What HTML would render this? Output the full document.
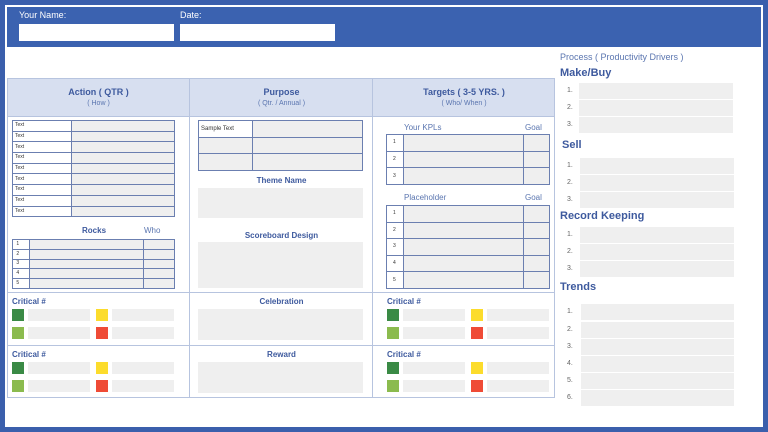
<!DOCTYPE html>
<html><head><meta charset="utf-8"><style>
*{margin:0;padding:0;box-sizing:border-box}
body{width:768px;height:432px;position:relative;background:#fff;font-family:"Liberation Sans",sans-serif;overflow:hidden}
div,table{position:absolute}
.b{color:#3e5a9e;font-weight:bold;font-size:9px}
.l{color:#5b76b0;font-size:8px}
.g{background:#efefef}
.n{font-size:7px;color:#666}
.sq{width:12px;height:12px}
table{border-collapse:collapse;table-layout:fixed}
td{border:1px solid #6b7fb0;background:#efefef;font-size:5px;color:#333;padding:0 0 0 2px;line-height:1;overflow:hidden;white-space:nowrap}
td.w{background:#fff}
</style></head><body>
<div style="left:0;top:0;width:768px;height:432px;border:5px solid #3b5fac"></div>
<div style="left:7px;top:7px;width:754px;height:40px;background:#3b62b0"></div>
<div style="left:19px;top:10px;color:#fff;font-size:9px">Your Name:</div>
<div style="left:180px;top:10px;color:#fff;font-size:9px">Date:</div>
<div style="left:19px;top:24px;width:155px;height:17px;background:#fff"></div>
<div style="left:180px;top:24px;width:155px;height:17px;background:#fff"></div>

<div style="left:7px;top:78px;width:548px;height:38px;background:#d7dff0"></div>
<div style="left:7px;top:78px;width:548px;height:320px;border:1px solid #b7c4df"></div>
<div style="left:189px;top:78px;width:1px;height:320px;background:#b7c4df"></div>
<div style="left:372px;top:78px;width:1px;height:320px;background:#b7c4df"></div>
<div style="left:7px;top:116px;width:548px;height:1px;background:#b7c4df"></div>
<div style="left:7px;top:292px;width:548px;height:1px;background:#b7c4df"></div>
<div style="left:7px;top:345px;width:548px;height:1px;background:#b7c4df"></div>

<div class="b" style="left:7px;top:87px;width:183px;text-align:center">Action ( QTR )</div>
<div class="l" style="left:7px;top:100px;width:183px;text-align:center;font-size:7px">( How )</div>
<div class="b" style="left:190px;top:87px;width:183px;text-align:center">Purpose</div>
<div class="l" style="left:190px;top:100px;width:183px;text-align:center;font-size:7px">( Qtr. / Annual )</div>
<div class="b" style="left:373px;top:87px;width:182px;text-align:center">Targets ( 3-5 YRS. )</div>
<div class="l" style="left:373px;top:100px;width:182px;text-align:center;font-size:7px">( Who/ When )</div>

<table style="left:12px;top:120px;width:163px">
<colgroup><col style="width:59px"><col></colgroup>
<tr style="height:10.7px"><td class="w">Text</td><td></td></tr>
<tr style="height:10.7px"><td class="w">Text</td><td></td></tr>
<tr style="height:10.7px"><td class="w">Text</td><td></td></tr>
<tr style="height:10.7px"><td class="w">Text</td><td></td></tr>
<tr style="height:10.7px"><td class="w">Text</td><td></td></tr>
<tr style="height:10.7px"><td class="w">Text</td><td></td></tr>
<tr style="height:10.7px"><td class="w">Text</td><td></td></tr>
<tr style="height:10.7px"><td class="w">Text</td><td></td></tr>
<tr style="height:10.7px"><td class="w">Text</td><td></td></tr>
</table>

<div class="b" style="left:82px;top:226px;font-size:8px">Rocks</div>
<div class="l" style="left:144px;top:226px">Who</div>
<table style="left:12px;top:239px;width:163px">
<colgroup><col style="width:17px"><col><col style="width:31px"></colgroup>
<tr style="height:9.8px"><td class="w">&nbsp;1</td><td></td><td></td></tr>
<tr style="height:9.8px"><td class="w">&nbsp;2</td><td></td><td></td></tr>
<tr style="height:9.8px"><td class="w">&nbsp;3</td><td></td><td></td></tr>
<tr style="height:9.8px"><td class="w">&nbsp;4</td><td></td><td></td></tr>
<tr style="height:9.8px"><td class="w">&nbsp;5</td><td></td><td></td></tr>
</table>

<table style="left:198px;top:120px;width:165px">
<colgroup><col style="width:54px"><col></colgroup>
<tr style="height:16.5px"><td class="w" style="font-size:6px">Sample Text</td><td></td></tr>
<tr style="height:16.5px"><td></td><td></td></tr>
<tr style="height:16.5px"><td></td><td></td></tr>
</table>
<div class="b" style="left:190px;top:176px;width:183px;text-align:center;font-size:8px">Theme Name</div>
<div class="g" style="left:198px;top:188px;width:165px;height:30px"></div>
<div class="b" style="left:190px;top:231px;width:183px;text-align:center;font-size:8px">Scoreboard Design</div>
<div class="g" style="left:198px;top:242px;width:165px;height:46px"></div>
<div class="b" style="left:190px;top:297px;width:183px;text-align:center;font-size:8px">Celebration</div>
<div class="g" style="left:198px;top:309px;width:165px;height:31px"></div>
<div class="b" style="left:190px;top:350px;width:183px;text-align:center;font-size:8px">Reward</div>
<div class="g" style="left:198px;top:362px;width:165px;height:31px"></div>

<div class="l" style="left:404px;top:123px">Your KPLs</div>
<div class="l" style="left:525px;top:123px">Goal</div>
<table style="left:386px;top:134px;width:164px">
<colgroup><col style="width:17px"><col><col style="width:26px"></colgroup>
<tr style="height:16.7px"><td class="w" style="padding-left:6px">1</td><td></td><td></td></tr>
<tr style="height:16.7px"><td class="w" style="padding-left:6px">2</td><td></td><td></td></tr>
<tr style="height:16.7px"><td class="w" style="padding-left:6px">3</td><td></td><td></td></tr>
</table>
<div class="l" style="left:404px;top:193px">Placeholder</div>
<div class="l" style="left:525px;top:193px">Goal</div>
<table style="left:386px;top:205px;width:164px">
<colgroup><col style="width:17px"><col><col style="width:26px"></colgroup>
<tr style="height:16.6px"><td class="w" style="padding-left:6px">1</td><td></td><td></td></tr>
<tr style="height:16.6px"><td class="w" style="padding-left:6px">2</td><td></td><td></td></tr>
<tr style="height:16.6px"><td class="w" style="padding-left:6px">3</td><td></td><td></td></tr>
<tr style="height:16.6px"><td class="w" style="padding-left:6px">4</td><td></td><td></td></tr>
<tr style="height:16.6px"><td class="w" style="padding-left:6px">5</td><td></td><td></td></tr>
</table>

<div class="b" style="left:12px;top:297px;font-size:8px">Critical #</div>
<div class="sq" style="left:12px;top:309px;background:#3a8a45"></div><div class="g" style="left:28px;top:309px;width:62px;height:12px"></div>
<div class="sq" style="left:96px;top:309px;background:#fcdc2c"></div><div class="g" style="left:112px;top:309px;width:62px;height:12px"></div>
<div class="sq" style="left:12px;top:327px;background:#8bbb4e"></div><div class="g" style="left:28px;top:327px;width:62px;height:12px"></div>
<div class="sq" style="left:96px;top:327px;background:#ef4b36"></div><div class="g" style="left:112px;top:327px;width:62px;height:12px"></div>

<div class="b" style="left:12px;top:350px;font-size:8px">Critical #</div>
<div class="sq" style="left:12px;top:362px;background:#3a8a45"></div><div class="g" style="left:28px;top:362px;width:62px;height:12px"></div>
<div class="sq" style="left:96px;top:362px;background:#fcdc2c"></div><div class="g" style="left:112px;top:362px;width:62px;height:12px"></div>
<div class="sq" style="left:12px;top:380px;background:#8bbb4e"></div><div class="g" style="left:28px;top:380px;width:62px;height:12px"></div>
<div class="sq" style="left:96px;top:380px;background:#ef4b36"></div><div class="g" style="left:112px;top:380px;width:62px;height:12px"></div>

<div class="b" style="left:387px;top:297px;font-size:8px">Critical #</div>
<div class="sq" style="left:387px;top:309px;background:#3a8a45"></div><div class="g" style="left:403px;top:309px;width:62px;height:12px"></div>
<div class="sq" style="left:471px;top:309px;background:#fcdc2c"></div><div class="g" style="left:487px;top:309px;width:62px;height:12px"></div>
<div class="sq" style="left:387px;top:327px;background:#8bbb4e"></div><div class="g" style="left:403px;top:327px;width:62px;height:12px"></div>
<div class="sq" style="left:471px;top:327px;background:#ef4b36"></div><div class="g" style="left:487px;top:327px;width:62px;height:12px"></div>

<div class="b" style="left:387px;top:350px;font-size:8px">Critical #</div>
<div class="sq" style="left:387px;top:362px;background:#3a8a45"></div><div class="g" style="left:403px;top:362px;width:62px;height:12px"></div>
<div class="sq" style="left:471px;top:362px;background:#fcdc2c"></div><div class="g" style="left:487px;top:362px;width:62px;height:12px"></div>
<div class="sq" style="left:387px;top:380px;background:#8bbb4e"></div><div class="g" style="left:403px;top:380px;width:62px;height:12px"></div>
<div class="sq" style="left:471px;top:380px;background:#ef4b36"></div><div class="g" style="left:487px;top:380px;width:62px;height:12px"></div>

<div class="l" style="left:560px;top:52px;font-size:9px">Process ( Productivity Drivers )</div>
<div class="b" style="left:560px;top:67px;font-size:11px">Make/Buy</div>
<div class="n" style="left:567px;top:87px">1.</div><div class="g" style="left:579px;top:83px;width:154px;height:16px"></div>
<div class="n" style="left:567px;top:104px">2.</div><div class="g" style="left:579px;top:100px;width:154px;height:16px"></div>
<div class="n" style="left:567px;top:121px">3.</div><div class="g" style="left:579px;top:117px;width:154px;height:16px"></div>
<div class="b" style="left:562px;top:139px;font-size:11px">Sell</div>
<div class="n" style="left:567px;top:162px">1.</div><div class="g" style="left:580px;top:158px;width:154px;height:16px"></div>
<div class="n" style="left:567px;top:179px">2.</div><div class="g" style="left:580px;top:175px;width:154px;height:16px"></div>
<div class="n" style="left:567px;top:196px">3.</div><div class="g" style="left:580px;top:192px;width:154px;height:16px"></div>
<div class="b" style="left:560px;top:210px;font-size:11px">Record Keeping</div>
<div class="n" style="left:567px;top:231px">1.</div><div class="g" style="left:580px;top:227px;width:154px;height:16px"></div>
<div class="n" style="left:567px;top:248px">2.</div><div class="g" style="left:580px;top:244px;width:154px;height:16px"></div>
<div class="n" style="left:567px;top:265px">3.</div><div class="g" style="left:580px;top:261px;width:154px;height:16px"></div>
<div class="b" style="left:560px;top:281px;font-size:11px">Trends</div>
<div class="n" style="left:567px;top:308px">1.</div><div class="g" style="left:581px;top:304px;width:153px;height:16px"></div>
<div class="n" style="left:567px;top:326px">2.</div><div class="g" style="left:581px;top:322px;width:153px;height:16px"></div>
<div class="n" style="left:567px;top:343px">3.</div><div class="g" style="left:581px;top:339px;width:153px;height:16px"></div>
<div class="n" style="left:567px;top:360px">4.</div><div class="g" style="left:581px;top:356px;width:153px;height:16px"></div>
<div class="n" style="left:567px;top:377px">5.</div><div class="g" style="left:581px;top:373px;width:153px;height:16px"></div>
<div class="n" style="left:567px;top:394px">6.</div><div class="g" style="left:581px;top:390px;width:153px;height:16px"></div>
</body></html>
